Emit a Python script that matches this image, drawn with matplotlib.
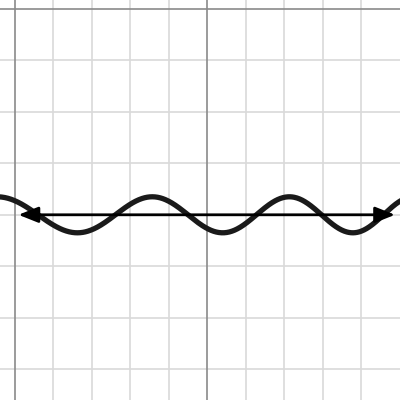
import numpy as np
import matplotlib
matplotlib.use("Agg")
import matplotlib.pyplot as plt

xlim = (-5.38, 5.01)
ylim = (-7.6, 0.175)
minor_x = [-4, -3, -2, -1, 1, 2, 3, 4]
major_x = [-5, 0]
minor_y = [-1, -2, -3, -4, -5, -6, -7]
major_y = [0]
wave_center = -4.0
wave_amp = 0.35
# extrema of the wave (x) and their phase (in units of pi/2)
extrema_x = [-3.38, -1.40, 0.39, 2.13, 3.79]
extrema_phase = [-1, 1, 3, 5, 7]
line_y = -4.0
line_x = (-4.9, 4.88)

fig = plt.figure(figsize=(4, 4), dpi=100)
ax = fig.add_axes([0, 0, 1, 1])
ax.set_xlim(*xlim); ax.set_ylim(*ylim)
ax.axis('off')
for v in minor_x:
    ax.axvline(v, color='#d9d9d9', lw=1.2, zorder=0)
for v in minor_y:
    ax.axhline(v, color='#d9d9d9', lw=1.2, zorder=0)
for v in major_x:
    ax.axvline(v, color='#8a8a8a', lw=1.2, zorder=1)
for v in major_y:
    ax.axhline(v, color='#8a8a8a', lw=1.2, zorder=1)

coef = np.polyfit(extrema_x, np.array(extrema_phase) * np.pi / 2, 2)
x = np.linspace(xlim[0] - 0.2, xlim[1] + 0.2, 800)
y = wave_center + wave_amp * np.sin(np.polyval(coef, x))
ax.plot(x, y, color='#1a1a1a', lw=3.8, zorder=3, solid_capstyle='round')
ax.annotate('', xy=(line_x[1], line_y), xytext=(line_x[0], line_y),
            arrowprops=dict(arrowstyle='<|-|>,head_length=0.5,head_width=0.2',
                            color='black', lw=2,
                            mutation_scale=24, shrinkA=0, shrinkB=0), zorder=4)
fig.savefig('out.png', dpi=100)
